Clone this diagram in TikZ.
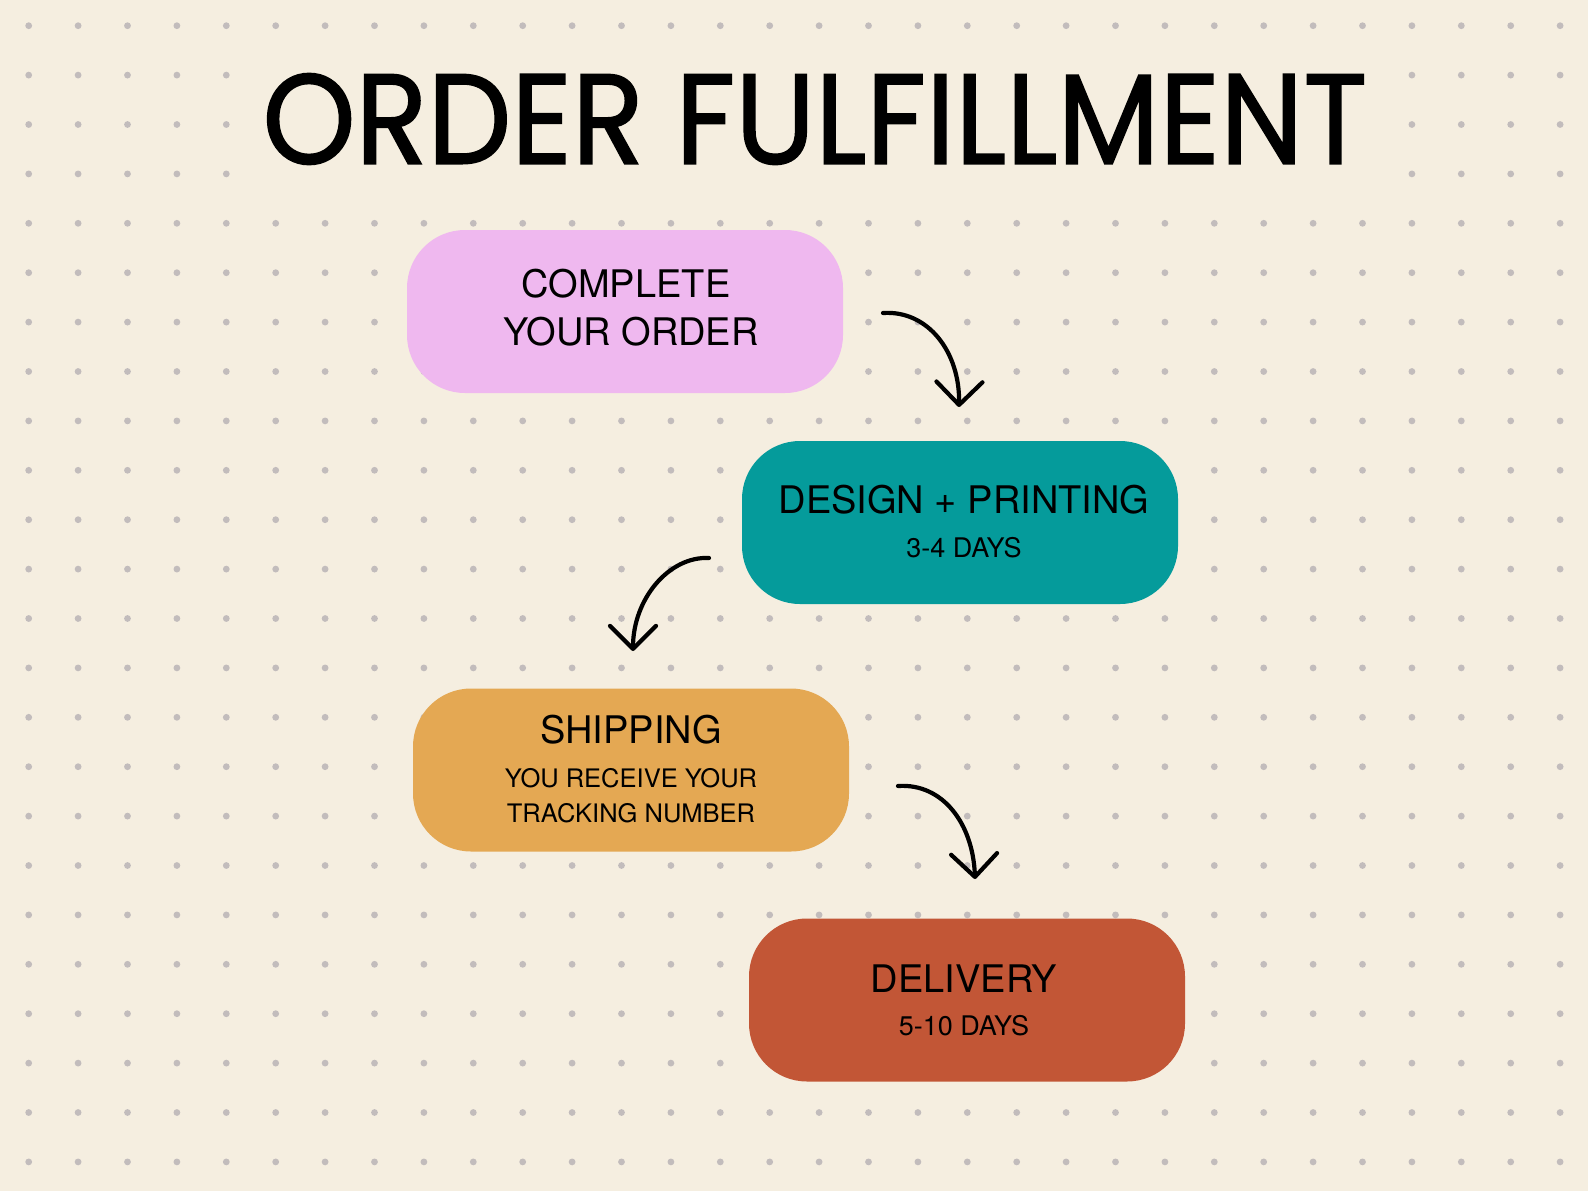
\documentclass[tikz,border=0pt]{standalone}
\usepackage{fontspec}
\usepackage{tikz}
\usetikzlibrary{arrows.meta}
\setmainfont{TeX Gyre Heros}
\newfontfamily\titlefont{Poppins}[FakeBold=1.3]
\definecolor{paper}{HTML}{F5EEE0}
\definecolor{dotgrey}{HTML}{C2BCBC}
\definecolor{pinkbox}{HTML}{EFB8EF}
\definecolor{tealbox}{HTML}{059B9B}
\definecolor{orangebox}{HTML}{E4A853}
\definecolor{redbox}{HTML}{C25636}

\begin{document}
\begin{tikzpicture}[x=1pt,y=-1pt,
        stepbox/.style={rounded corners=58pt, minimum width=436pt, minimum height=163pt, inner sep=0pt},
        mainlbl/.style={anchor=base, inner sep=0pt, font=\fontsize{38}{40}\selectfont},
        sublbl/.style={anchor=base, inner sep=0pt, font=\fontsize{27}{29}\selectfont},
        curvy/.style={line width=4.2pt, line cap=round, -{Straight Barb[length=23pt,width=46pt,round]}}]
        \useasboundingbox (0,0) rectangle (1588,1191);
        \fill[paper] (0,0) rectangle (1588,1191);
        % dotted paper
        \foreach \i in {0,...,31}
            \foreach \j in {0,...,23}
                \fill[dotgrey] (28.7+49.4*\i, 25.7+49.4*\j) circle (3.4);
        \node[fill=paper, minimum width=1150pt, minimum height=150pt, inner sep=0pt, font=\titlefont\fontsize{128}{130}\selectfont]
        (title) at (815,119) {\scalebox{0.925}[1]{ORDER FULFILLMENT}};

        \node[stepbox, fill=pinkbox] (complete) at (625,311.5) {};
        \node[mainlbl] (completeA) at (626,297) {COMPLETE};
        \node[mainlbl] (completeB) at (631,345) {YOUR ORDER};

        \node[stepbox, fill=tealbox] (design) at (960,522.5) {};
        \node[mainlbl] (designA) at (964,513) {DESIGN + PRINTING};
        \node[sublbl] (designB) at (964,557) {3-4 DAYS};

        \node[stepbox, fill=orangebox] (shipping) at (631,770) {};
        \node[mainlbl] (shippingA) at (631,743) {SHIPPING};
        \node[sublbl, font=\fontsize{25.5}{27}\selectfont] (shippingB) at (631,787) {YOU RECEIVE YOUR};
        \node[sublbl, font=\fontsize{25.5}{27}\selectfont] (shippingC) at (631,822) {TRACKING NUMBER};

        \node[stepbox, fill=redbox] (delivery) at (967,1000) {};
        \node[mainlbl] (deliveryA) at (964,992) {DELIVERY};
        \node[sublbl] (deliveryB) at (964,1035) {5-10 DAYS};

        % arrows between the steps
        \coordinate (a1s) at (883,313);
        \coordinate (a1e) at (959,407);
        \coordinate (a2s) at (709,558);
        \coordinate (a2e) at (633,651);
        \coordinate (a3s) at (898,786);
        \coordinate (a3e) at (975,879);
        \draw[curvy] (a1s) .. controls +(45,-3) and +(1,-55) .. (a1e);
        \draw[curvy] (a2s) .. controls +(-40,-2) and +(0,-52) .. (a2e);
        \draw[curvy] (a3s) .. controls +(45,-3) and +(-2,-55) .. (a3e);
    \end{tikzpicture}
\end{document}
